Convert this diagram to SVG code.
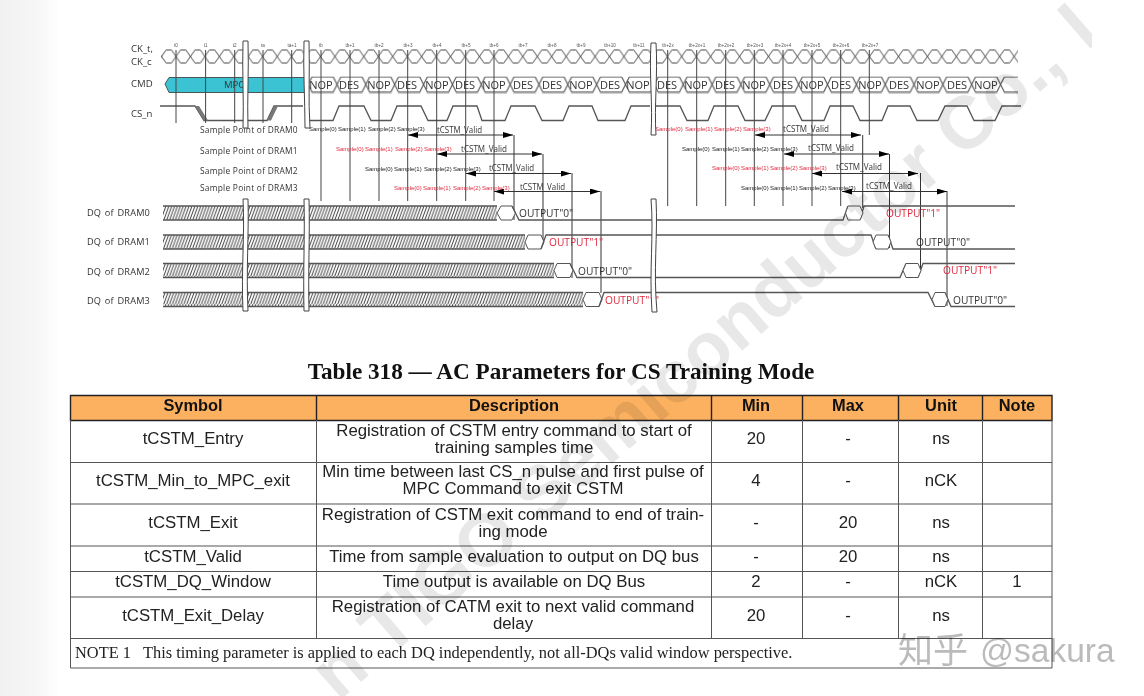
<svg xmlns="http://www.w3.org/2000/svg" width="1144" height="696" viewBox="0 0 1144 696">
<style>
.sig{font:9.600px "Open Sans",sans-serif;fill:#333}
.pt{font:8.400px "Open Sans",sans-serif;fill:#333;letter-spacing:.25px}
.dq{font:9.200px "Open Sans",sans-serif;fill:#333;letter-spacing:.2px;word-spacing:1px}
.tick{font:4.600px "Liberation Sans",sans-serif;fill:#555;text-anchor:middle}
.cmd{font:11px "Open Sans",sans-serif;fill:#333;text-anchor:middle}
.sb{font:6px "Liberation Sans",sans-serif;fill:#222}
.sr{font:6px "Liberation Sans",sans-serif;fill:#e0283c}
.v{font:9.600px "Open Sans",sans-serif;fill:#333}
.ob{font:10.200px "Open Sans",sans-serif;fill:#333}
.or{font:10.200px "Open Sans",sans-serif;fill:#e0283c}
.ln{fill:none;stroke:#333;stroke-width:1}
.tl{fill:none;stroke:#444;stroke-width:1}
.wire{fill:none;stroke:#555;stroke-width:1.300}
.hex{fill:#fff;stroke:#555;stroke-width:1}
.brk{fill:#fff;stroke:#444;stroke-width:1}
.th{font:bold 16.400px "Liberation Sans",sans-serif;fill:#111;text-anchor:middle}
.td{font:16.800px "Liberation Sans",sans-serif;fill:#222;text-anchor:middle}
.grid{stroke:#555;stroke-width:1;fill:none}
</style>
<defs>
<linearGradient id="edge" x1="0" x2="1" y1="0" y2="0"><stop offset="0" stop-color="#f1f1f1"/><stop offset=".6" stop-color="#f6f6f6"/><stop offset="1" stop-color="#fff"/></linearGradient>
<pattern id="ck" patternUnits="userSpaceOnUse" width="14.45" height="14" patternTransform="translate(168.8 49.5)">
<path d="M0 .5H2.700L11.700 13.500H14.450M0 13.500H2.700L11.700 .5H14.450" fill="none" stroke="#333" stroke-width=".9"/></pattern>
<pattern id="bus" patternUnits="userSpaceOnUse" width="28.85" height="17" patternTransform="translate(322.6 76.5)">
<path d="M0 .5H10.700L18.200 15.500H28.850M0 15.500H10.700L18.200 .5H28.850" fill="none" stroke="#444" stroke-width="1"/></pattern>
<pattern id="hatch" patternUnits="userSpaceOnUse" width="2.9" height="14" patternTransform="translate(163 206)">
<path d="M-5 14L0 0M-2.100 14L2.900 0M.8 14L5.800 0" fill="none" stroke="#444" stroke-width="1"/></pattern>
<marker id="ah" markerUnits="userSpaceOnUse" markerWidth="11" markerHeight="6" refX="10" refY="3" orient="auto-start-reverse"><path d="M0 0L10 3L0 6Z" fill="#000"/></marker>
<clipPath id="wmc"><rect x="0" y="0" width="1092" height="696"/></clipPath>
</defs>
<rect width="1144" height="696" fill="#fff"/>
<rect width="60" height="696" fill="url(#edge)"/>

<g id="labels">
<text class="sig" x="131" y="52">CK_t,</text><text class="sig" x="131" y="65">CK_c</text>
<text class="sig" x="131" y="87">CMD</text><text class="sig" x="131" y="117">CS_n</text>
<text class="pt" x="200" y="133">Sample Point of DRAM0</text><text class="pt" x="200" y="153.500">Sample Point of DRAM1</text>
<text class="pt" x="200" y="174">Sample Point of DRAM2</text><text class="pt" x="200" y="190.500">Sample Point of DRAM3</text>
<text class="dq" x="87" y="216">DQ of DRAM0</text><text class="dq" x="87" y="245">DQ of DRAM1</text>
<text class="dq" x="87" y="274.500">DQ of DRAM2</text><text class="dq" x="87" y="303.500">DQ of DRAM3</text>
</g>

<g id="ticks">
<text class="tick" x="176" y="47">t0</text><text class="tick" x="205.600" y="47">t1</text><text class="tick" x="234.700" y="47">t2</text><text class="tick" x="263" y="47">ta</text><text class="tick" x="292" y="47">ta+1</text>
<text class="tick" x="321" y="47">tb</text><text class="tick" x="350" y="47">tb+1</text><text class="tick" x="379" y="47">tb+2</text><text class="tick" x="408" y="47">tb+3</text><text class="tick" x="437" y="47">tb+4</text><text class="tick" x="466" y="47">tb+5</text><text class="tick" x="494" y="47">tb+6</text><text class="tick" x="523" y="47">tb+7</text><text class="tick" x="552" y="47">tb+8</text><text class="tick" x="581" y="47">tb+9</text><text class="tick" x="610" y="47">tb+10</text><text class="tick" x="639" y="47">tb+11</text>
<text class="tick" x="668" y="47">tb+2x</text><text class="tick" x="697" y="47">tb+2x+1</text><text class="tick" x="726" y="47">tb+2x+2</text><text class="tick" x="755" y="47">tb+2x+3</text><text class="tick" x="783" y="47">tb+2x+4</text><text class="tick" x="812" y="47">tb+2x+5</text><text class="tick" x="841" y="47">tb+2x+6</text><text class="tick" x="870" y="47">tb+2x+7</text>
</g>

<g id="clock"><rect x="161" y="49.500" width="857" height="14" fill="url(#ck)"/></g>

<g id="cmd">
<path d="M165 84L169 77.500H305V92.500H169Z" fill="#3cc3d3" stroke="#333" stroke-width=".8"/>
<text x="234" y="88" font-family="Open Sans,sans-serif" font-size="9.500" fill="#333" text-anchor="middle">MPC</text>
<rect x="308" y="76.500" width="710" height="17" fill="url(#bus)"/>
<text class="cmd" x="321" y="89">NOP</text><text class="cmd" x="349" y="89">DES</text><text class="cmd" x="379" y="89">NOP</text><text class="cmd" x="407" y="89">DES</text><text class="cmd" x="437" y="89">NOP</text><text class="cmd" x="465" y="89">DES</text><text class="cmd" x="494" y="89">NOP</text><text class="cmd" x="523" y="89">DES</text><text class="cmd" x="552" y="89">DES</text><text class="cmd" x="581" y="89">NOP</text><text class="cmd" x="610" y="89">DES</text><text class="cmd" x="638" y="89">NOP</text>
<text class="cmd" x="667" y="89">DES</text><text class="cmd" x="696" y="89">NOP</text><text class="cmd" x="725" y="89">DES</text><text class="cmd" x="754" y="89">NOP</text><text class="cmd" x="783" y="89">DES</text><text class="cmd" x="812" y="89">NOP</text><text class="cmd" x="841" y="89">DES</text><text class="cmd" x="870" y="89">NOP</text><text class="cmd" x="899" y="89">DES</text><text class="cmd" x="928" y="89">NOP</text><text class="cmd" x="957" y="89">DES</text><text class="cmd" x="986" y="89">NOP</text>
</g>

<g id="cs-n">
<path class="wire" d="M160 106H195L204 120.500H267L274 106H303M308 120.500H333L339 106H364L371 120.500H391L397 106H421L428 120.500H447L453 106H477L482 120.500H505L511 106H535L542 120.500H563L569 106H592L598 120.500H625L631 106H650M656 106H680L687 120.500H708L714 106H738L745 120.500H765L772 106H795L802 120.500H824L830 106H853L860 120.500H882L888 106H910L917 120.500H938L945 106H967L974 120.500H995L1002 106H1021"/>
<path d="M195 106H199L208 120.500H204ZM267 120.500H271L278 106H274Z" fill="#777"/>
</g>

<g id="connectors">
<path class="tl" d="M176 50V123M205.600 50V123M234.700 50V123M263 50V123M291.700 50V123"/>
<path class="tl" d="M321 50V201M350 50V201M379 50V201M407.700 50V201M436.700 50V201M465.700 50V201M494 50V201"/>
<path class="tl" d="M667.700 50V206M696.700 50V206M725.700 50V206M754.300 50V206M783 50V206M812 50V206M840.700 50V206M869.300 50V135"/>
<path class="ln" d="M514 135V220M543 154V242M572 173V278M601 191V293M862.700 135V208M889.500 154V248M920.500 173V270M947 191V306"/>
<g class="ln">
<line x1="408" y1="135" x2="513" y2="135" marker-start="url(#ah)" marker-end="url(#ah)"/>
<line x1="437" y1="154" x2="542" y2="154" marker-start="url(#ah)" marker-end="url(#ah)"/>
<line x1="466" y1="173.500" x2="571" y2="173.500" marker-start="url(#ah)" marker-end="url(#ah)"/>
<line x1="494" y1="191.500" x2="600" y2="191.500" marker-start="url(#ah)" marker-end="url(#ah)"/>
<line x1="755" y1="135" x2="861" y2="135" marker-start="url(#ah)" marker-end="url(#ah)"/>
<line x1="784" y1="154" x2="889" y2="154" marker-start="url(#ah)" marker-end="url(#ah)"/>
<line x1="812" y1="173.500" x2="918" y2="173.500" marker-start="url(#ah)" marker-end="url(#ah)"/>
<line x1="842" y1="191.500" x2="947" y2="191.500" marker-start="url(#ah)" marker-end="url(#ah)"/>
</g>
</g>

<g id="samples">
<text class="sb" x="309" y="131">Sample(0)</text><text class="sb" x="338" y="131">Sample(1)</text><text class="sb" x="368" y="131">Sample(2)</text><text class="sb" x="397" y="131">Sample(3)</text>
<text class="sr" x="336" y="150.500">Sample(0)</text><text class="sr" x="365" y="150.500">Sample(1)</text><text class="sr" x="395" y="150.500">Sample(2)</text><text class="sr" x="424" y="150.500">Sample(3)</text>
<text class="sb" x="365" y="170.500">Sample(0)</text><text class="sb" x="394" y="170.500">Sample(1)</text><text class="sb" x="424" y="170.500">Sample(2)</text><text class="sb" x="453" y="170.500">Sample(3)</text>
<text class="sr" x="394" y="189.500">Sample(0)</text><text class="sr" x="423" y="189.500">Sample(1)</text><text class="sr" x="453" y="189.500">Sample(2)</text><text class="sr" x="482" y="189.500">Sample(3)</text>
<text class="sr" x="655" y="131">Sample(0)</text><text class="sr" x="685" y="131">Sample(1)</text><text class="sr" x="714" y="131">Sample(2)</text><text class="sr" x="743" y="131">Sample(3)</text>
<text class="sb" x="682" y="150.500">Sample(0)</text><text class="sb" x="712" y="150.500">Sample(1)</text><text class="sb" x="741" y="150.500">Sample(2)</text><text class="sb" x="770" y="150.500">Sample(3)</text>
<text class="sr" x="712" y="170">Sample(0)</text><text class="sr" x="741" y="170">Sample(1)</text><text class="sr" x="770" y="170">Sample(2)</text><text class="sr" x="799" y="170">Sample(3)</text>
<text class="sb" x="741" y="189.500">Sample(0)</text><text class="sb" x="770" y="189.500">Sample(1)</text><text class="sb" x="799" y="189.500">Sample(2)</text><text class="sb" x="828" y="189.500">Sample(3)</text>
<text class="v" x="437" y="133" textLength="45" lengthAdjust="spacingAndGlyphs">tCSTM_Valid</text><text class="v" x="461" y="152" textLength="46" lengthAdjust="spacingAndGlyphs">tCSTM_Valid</text><text class="v" x="489" y="170.500" textLength="45" lengthAdjust="spacingAndGlyphs">tCSTM_Valid</text><text class="v" x="520" y="189.500" textLength="45" lengthAdjust="spacingAndGlyphs">tCSTM_Valid</text>
<text class="v" x="783" y="132" textLength="46" lengthAdjust="spacingAndGlyphs">tCSTM_Valid</text><text class="v" x="808" y="151" textLength="46" lengthAdjust="spacingAndGlyphs">tCSTM_Valid</text><text class="v" x="836" y="170" textLength="46" lengthAdjust="spacingAndGlyphs">tCSTM_Valid</text><text class="v" x="866" y="189" textLength="46" lengthAdjust="spacingAndGlyphs">tCSTM_Valid</text>
</g>

<g id="dq0"><rect x="163" y="206" width="334" height="14" fill="url(#hatch)"/>
<path class="wire" d="M163 206H497M163 220H497"/>
<path class="hex" d="M497 213L501 206H512L515.500 213 512 220H501Z"/>
<path class="wire" d="M512 206L519 220H843L848 206M860 220L864 206H1015"/>
<path class="hex" d="M845.500 213L848 206H860L863 213 860 220H848Z"/>
<text class="ob" x="519" y="217">OUTPUT"0"</text><text class="or" x="886" y="217">OUTPUT"1"</text></g>

<g id="dq1"><rect x="163" y="235" width="362" height="14" fill="url(#hatch)"/>
<path class="wire" d="M163 235H525M163 249H525"/>
<path class="hex" d="M525 242L528 235H541L544 242 541 249H528Z"/>
<path class="wire" d="M541 249L546 235H871L876 249M888 235L893 249H1015"/>
<path class="hex" d="M873 242L876 235H888L891 242 888 249H876Z"/>
<text class="or" x="549" y="246">OUTPUT"1"</text><text class="ob" x="916" y="246">OUTPUT"0"</text></g>

<g id="dq2"><rect x="163" y="263.500" width="391" height="14" fill="url(#hatch)"/>
<path class="wire" d="M163 263.500H554M163 277.500H554"/>
<path class="hex" d="M554 270.500L557 263.500H570L573 270.500 570 277.500H557Z"/>
<path class="wire" d="M570 263.500L577 277.500H900L906 263.500M918 277.500L923 263.500H1015"/>
<path class="hex" d="M903 270.500L906 263.500H918L921 270.500 918 277.500H906Z"/>
<text class="ob" x="578" y="275">OUTPUT"0"</text><text class="or" x="943" y="274">OUTPUT"1"</text></g>

<g id="dq3"><rect x="163" y="292.500" width="420" height="14" fill="url(#hatch)"/>
<path class="wire" d="M163 292.500H583M163 306.500H583"/>
<path class="hex" d="M583 299.500L586 292.500H599L602 299.500 599 306.500H586Z"/>
<path class="wire" d="M599 306.500L604 292.500H928L935 306.500M945 292.500L951 306.500H1015"/>
<path class="hex" d="M932 299.500L935 292.500H945L948 299.500 945 306.500H935Z"/>
<text class="or" x="605" y="304">OUTPUT"1"</text><text class="ob" x="953" y="304">OUTPUT"0"</text></g>

<g id="breaks">
<path class="brk" d="M243 41H248C249 70 247 100 248 128H243C244 100 242 70 243 41Z"/>
<path class="brk" d="M304 41H309C310 70 308 100 310 128H305C305 100 303 70 304 41Z"/>
<path class="brk" d="M651 43H656C658 75 654 105 656 135H651C653 105 649 75 651 43Z"/>
<path class="brk" d="M243 199H248C249 235 246 270 248 311H243C241 270 245 235 243 199Z"/>
<path class="brk" d="M304 199H309C310 235 308 270 309 311H304C303 270 305 235 304 199Z"/>
<path class="brk" d="M651 199H656C658 235 653 270 657 312H652C649 270 654 235 651 199Z"/>
</g>

<g id="table">
<text x="561" y="379" font-family="Liberation Serif,serif" font-weight="bold" font-size="23.200" fill="#111" text-anchor="middle">Table 318 — AC Parameters for CS Training Mode</text>
<rect x="70.500" y="396" width="981.500" height="24.500" fill="#fbb15f"/>
<path d="M70.500 395.500H1052V420.500H70.500ZM316.500 395.500V420.500M711.500 395.500V420.500M802.500 395.500V420.500M898.500 395.500V420.500M982.500 395.500V420.500" fill="none" stroke="#222" stroke-width="1.400"/>
<path class="grid" d="M70.500 420V668H1052V420M70.500 462.500H1052M70.500 504H1052M70.500 546H1052M70.500 571.500H1052M70.500 597H1052M70.500 638.500H1052M316.500 420V638.500M711.500 420V638.500M802.500 420V638.500M898.500 420V638.500M982.500 420V638.500"/>
<text class="th" x="193" y="411">Symbol</text><text class="th" x="514" y="411">Description</text><text class="th" x="756" y="411">Min</text><text class="th" x="848" y="411">Max</text><text class="th" x="941" y="411">Unit</text><text class="th" x="1017" y="411">Note</text>
<text class="td" x="193" y="444">tCSTM_Entry</text><text class="td" x="514" y="436">Registration of CSTM entry command to start of</text><text class="td" x="514" y="453">training samples time</text><text class="td" x="756" y="444">20</text><text class="td" x="848" y="444">-</text><text class="td" x="941" y="444">ns</text>
<text class="td" x="193" y="486">tCSTM_Min_to_MPC_exit</text><text class="td" x="513" y="477">Min time between last CS_n pulse and first pulse of</text><text class="td" x="513" y="494">MPC Command to exit CSTM</text><text class="td" x="756" y="486">4</text><text class="td" x="848" y="486">-</text><text class="td" x="941" y="486">nCK</text>
<text class="td" x="193" y="528">tCSTM_Exit</text><text class="td" x="513" y="520">Registration of CSTM exit command to end of train-</text><text class="td" x="513" y="537">ing mode</text><text class="td" x="756" y="528">-</text><text class="td" x="848" y="528">20</text><text class="td" x="941" y="528">ns</text>
<text class="td" x="193" y="562">tCSTM_Valid</text><text class="td" x="514" y="562">Time from sample evaluation to output on DQ bus</text><text class="td" x="756" y="562">-</text><text class="td" x="848" y="562">20</text><text class="td" x="941" y="562">ns</text>
<text class="td" x="193" y="587">tCSTM_DQ_Window</text><text class="td" x="514" y="587">Time output is available on DQ Bus</text><text class="td" x="756" y="587">2</text><text class="td" x="848" y="587">-</text><text class="td" x="941" y="587">nCK</text><text class="td" x="1017" y="587">1</text>
<text class="td" x="193" y="621">tCSTM_Exit_Delay</text><text class="td" x="513" y="612">Registration of CATM exit to next valid command</text><text class="td" x="513" y="629">delay</text><text class="td" x="756" y="621">20</text><text class="td" x="848" y="621">-</text><text class="td" x="941" y="621">ns</text>
<text x="75" y="658" font-family="Liberation Serif,serif" font-size="16.400" fill="#222" xml:space="preserve">NOTE 1   This timing parameter is applied to each DQ independently, not all-DQs valid window perspective.</text>
</g>

<g id="watermark" clip-path="url(#wmc)" style="mix-blend-mode:multiply">
<text transform="translate(338 702) rotate(-41)" font-family="Liberation Sans,sans-serif" font-weight="bold" font-size="74" fill="#e8e8e8">n TIGO Semiconductor Co.,<tspan dx="5"> L</tspan></text>
</g>
<g id="credit" style="mix-blend-mode:multiply"><text x="898" y="663" font-family="Noto Sans CJK SC,sans-serif" font-size="35" fill="#bbb">知乎</text><text x="980" y="662" font-family="Liberation Sans,sans-serif" font-size="33.500" fill="#bbb">@sakura</text></g>
</svg>
